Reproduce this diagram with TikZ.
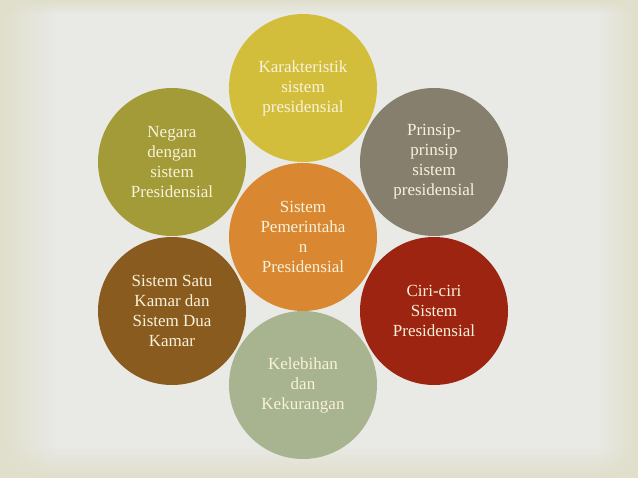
\documentclass[tikz,border=0pt]{standalone}
\usepackage{fontspec}
\usetikzlibrary{fadings}
\setmainfont{Liberation Serif}
\definecolor{bgframe}{HTML}{E0DFCB}
\definecolor{bginner}{HTML}{E9E9E6}
\definecolor{ctop}{HTML}{D3BE3C}
\definecolor{ctr}{HTML}{877F6E}
\definecolor{cbr}{HTML}{9C2410}
\definecolor{cb}{HTML}{A8B48F}
\definecolor{cbl}{HTML}{8A5B1F}
\definecolor{ctl}{HTML}{A39B38}
\definecolor{cc}{HTML}{D98730}
\definecolor{txt}{HTML}{F8F2DA}
\begin{document}
\begin{tikzpicture}[x=1pt,y=-1pt,
  bubble/.style={circle, minimum size=148pt, inner sep=0pt, text=txt, align=center,
    font=\fontsize{17}{20}\selectfont}]
\fill[bginner] (0,0) rectangle (638,478);
\fill[bgframe, path fading=east] (0,0) rectangle (55,478);
\fill[bgframe, path fading=west] (598,0) rectangle (638,478);
\fill[bgframe, path fading=south] (0,0) rectangle (638,14);
\fill[bgframe, path fading=north] (0,446) rectangle (638,478);
\node[bubble, fill=ctop] (top) at (303,88) {Karakteristik\\sistem\\presidensial};
\node[bubble, fill=ctr] (tr) at (434,162) {Prinsip-\\prinsip\\sistem\\presidensial};
\node[bubble, fill=cbr] (br) at (434,311) {Ciri-ciri\\Sistem\\Presidensial};
\node[bubble, fill=cb] (bot) at (303,385) {Kelebihan\\dan\\Kekurangan};
\node[bubble, fill=cbl] (bl) at (172,311) {Sistem Satu\\Kamar dan\\Sistem Dua\\Kamar};
\node[bubble, fill=ctl] (tl) at (172,162) {Negara\\dengan\\sistem\\Presidensial};
\node[bubble, fill=cc] (c) at (303,237) {Sistem\\Pemerintaha\\n\\Presidensial};
\end{tikzpicture}
\end{document}
